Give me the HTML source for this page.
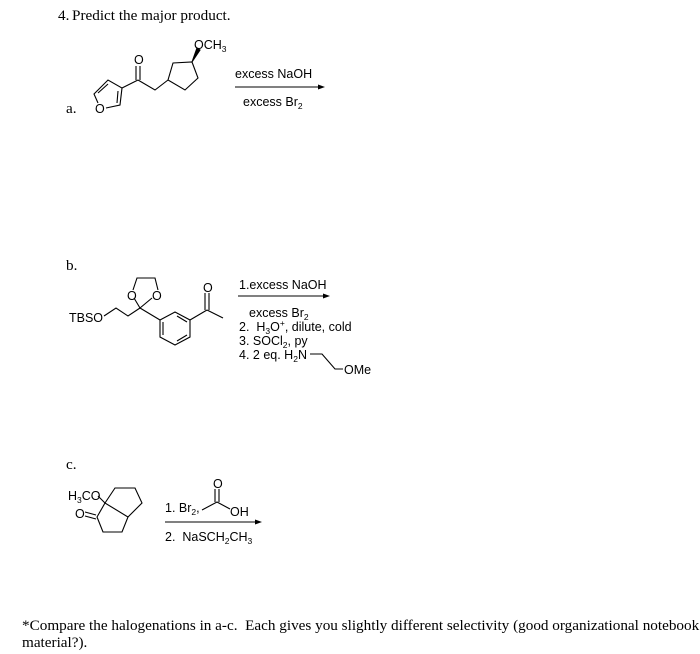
<!DOCTYPE html>
<html><head><meta charset="utf-8"><style>
html,body{margin:0;padding:0;background:#fff;}
svg{display:block}
.s{font-family:"Liberation Serif",serif;font-size:15.2px;fill:#000}
.h{font-family:"Liberation Sans",sans-serif;font-size:12.5px;fill:#000}
line,polyline,polygon{stroke:#000;stroke-width:1.1;fill:none}
</style></head><body>
<svg width="700" height="654" viewBox="0 0 700 654" xmlns="http://www.w3.org/2000/svg">
<text class="s" x="58" y="20">4.</text><text class="s" x="72" y="20">Predict the major product.</text>
<text class="s" x="66" y="113">a.</text>
<text class="s" x="66" y="270">b.</text>
<text class="s" x="66" y="469">c.</text>

<!-- a: furan -->
<polyline points="98,103 94,94 108,80 122,88 120,105 106,108"/>
<line x1="98" y1="93" x2="108" y2="84"/>
<line x1="118" y1="91" x2="117" y2="103"/>
<text class="h" x="95" y="113">O</text>
<line x1="122" y1="88" x2="138" y2="80"/>
<line x1="136" y1="80" x2="136" y2="66"/><line x1="140" y1="80" x2="140" y2="66"/>
<text class="h" x="134" y="64">O</text>
<polyline points="138,80 155,90 168,80"/>
<polygon points="168,80 173,63 192,62 198,78 185,90"/>
<polygon points="192,62 197,48 200,50" style="fill:#000"/>
<text class="h" x="194" y="49">OCH<tspan font-size="8.5" dy="3">3</tspan></text>
<line x1="235" y1="87" x2="318" y2="87"/><polygon points="318,84.5 325,87 318,89.5" style="fill:#000;stroke:none"/>
<text class="h" x="235" y="78">excess NaOH</text>
<text class="h" x="243" y="106">excess Br<tspan font-size="8.5" dy="3">2</tspan></text>

<!-- b -->
<text class="h" x="69" y="322">TBSO</text>
<polyline points="104,316 116,308 128,316 140,308"/>
<line x1="140" y1="308" x2="134" y2="298"/><line x1="140" y1="308" x2="152" y2="298"/>
<text class="h" x="127" y="300">O</text><text class="h" x="152" y="300">O</text>
<polyline points="133,290 137,278 155,278 158,290"/>
<line x1="140" y1="308" x2="160" y2="320"/>
<polygon points="160,320 175,312 190,320 190,337 175,345 160,337"/>
<line x1="163" y1="322" x2="163" y2="335"/><line x1="177" y1="341" x2="187" y2="335"/><line x1="177" y1="316" x2="187" y2="322"/>
<line x1="190" y1="320" x2="207" y2="310"/>
<line x1="205" y1="310" x2="205" y2="293"/><line x1="209" y1="310" x2="209" y2="293"/>
<text class="h" x="203" y="292">O</text>
<line x1="207" y1="310" x2="223" y2="318"/>
<line x1="238" y1="296" x2="323" y2="296"/><polygon points="323,293.5 330,296 323,298.5" style="fill:#000;stroke:none"/>
<text class="h" x="239" y="289">1.excess NaOH</text>
<text class="h" x="249" y="317">excess Br<tspan font-size="8.5" dy="3">2</tspan></text>
<text class="h" x="239" y="331">2.&#160; H<tspan font-size="8.5" dy="3">3</tspan><tspan dy="-3">O</tspan><tspan font-size="8.5" dy="-5">+</tspan><tspan dy="5">, dilute, cold</tspan></text>
<text class="h" x="239" y="345">3. SOCl<tspan font-size="8.5" dy="3">2</tspan><tspan dy="-3">, py</tspan></text>
<text class="h" x="239" y="359">4. 2 eq. H<tspan font-size="8.5" dy="3">2</tspan><tspan dy="-3">N</tspan></text>
<polyline points="310,354 322,354 335,369 343,369"/>
<text class="h" x="344" y="374">OMe</text>

<!-- c -->
<text class="h" x="68" y="500">H<tspan font-size="8.5" dy="3">3</tspan><tspan dy="-3">CO</tspan></text>
<text class="h" x="75" y="518">O</text>
<line x1="98" y1="496" x2="105" y2="503"/>
<polygon points="105,503 97,517 103,532 122,532 128,517"/>
<line x1="85" y1="512" x2="96" y2="515"/><line x1="85" y1="516" x2="96" y2="519"/>
<polyline points="105,503 115,488 135,488 142,503 128,517"/>
<line x1="165" y1="522" x2="255" y2="522"/><polygon points="255,519.5 262,522 255,524.5" style="fill:#000;stroke:none"/>
<text class="h" x="165" y="512">1. Br<tspan font-size="8.5" dy="3">2</tspan><tspan dy="-3">,</tspan></text>
<polyline points="202,510 217,502 230,509"/>
<line x1="215" y1="502" x2="215" y2="489"/><line x1="219" y1="502" x2="219" y2="489"/>
<text class="h" x="213" y="488">O</text>
<text class="h" x="230" y="516">OH</text>
<text class="h" x="165" y="541">2.&#160; NaSCH<tspan font-size="8.5" dy="3">2</tspan><tspan dy="-3">CH</tspan><tspan font-size="8.5" dy="3">3</tspan></text>

<text class="s" x="22" y="630">*Compare the halogenations in a-c.&#160; Each gives you slightly different selectivity (good organizational notebook</text>
<text class="s" x="22" y="647">material?).</text>
</svg>
</body></html>
